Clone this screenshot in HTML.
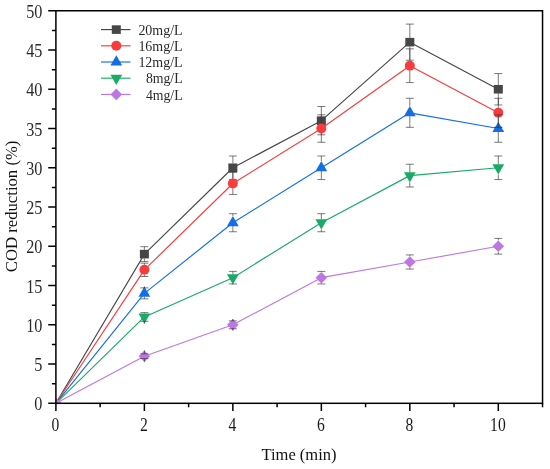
<!DOCTYPE html>
<html lang="en"><head><meta charset="utf-8"><title>COD reduction vs time</title>
<style>html,body{margin:0;padding:0;background:#fff}svg{display:block}.yt{font-family:"Liberation Serif",serif;font-size:18.2px;fill:#2a2a2a}.xt{font-family:"Liberation Serif",serif;font-size:17.8px;fill:#1a1a1a}.ti{font-family:"Liberation Serif",serif;font-size:16.5px;fill:#111}.lg{font-family:"Liberation Serif",serif;font-size:15.4px;fill:#2a2a2a}</style></head><body>
<svg width="550" height="469" viewBox="0 0 550 469">
<rect width="550" height="469" fill="#fff"/>
<defs><clipPath id="fr"><rect x="55.90" y="10.75" width="486.64" height="392.55"/></clipPath></defs>
<g>
<polyline fill="none" stroke="#464646" stroke-width="1.15" stroke-linejoin="round" points="55.90,403.30 144.38,254.13 232.86,167.77 321.34,120.66 409.82,42.15 498.30,89.26"/>
<rect x="139.88" y="249.83" width="9.0" height="8.6" fill="#464646"/><rect x="228.36" y="163.47" width="9.0" height="8.6" fill="#464646"/><rect x="316.84" y="116.36" width="9.0" height="8.6" fill="#464646"/><rect x="405.32" y="37.85" width="9.0" height="8.6" fill="#464646"/><rect x="493.80" y="84.96" width="9.0" height="8.6" fill="#464646"/>
<path d="M144.38 246.67V249.83M144.38 258.43V261.59M140.38 246.67h8M140.38 261.59h8M232.86 155.99V163.47M232.86 172.07V179.55M228.86 155.99h8M228.86 179.55h8M321.34 106.53V116.36M321.34 124.96V134.80M317.34 106.53h8M317.34 134.80h8M409.82 24.10V37.85M409.82 46.45V60.21M405.82 24.10h8M405.82 60.21h8M498.30 73.56V84.96M498.30 93.56V104.96M494.30 73.56h8M494.30 104.96h8" fill="none" stroke="#333" stroke-width="0.65"/>
</g>
<g>
<polyline fill="none" stroke="#f93b3c" stroke-width="1.15" stroke-linejoin="round" points="55.90,403.30 144.38,269.83 232.86,183.47 321.34,128.51 409.82,65.71 498.30,112.81"/>
<circle cx="144.38" cy="269.83" r="5" fill="#f93b3c"/><circle cx="232.86" cy="183.47" r="5" fill="#f93b3c"/><circle cx="321.34" cy="128.51" r="5" fill="#f93b3c"/><circle cx="409.82" cy="65.71" r="5" fill="#f93b3c"/><circle cx="498.30" cy="112.81" r="5" fill="#f93b3c"/>
<path d="M144.38 263.16V264.83M144.38 274.83V276.51M140.38 263.16h8M140.38 276.51h8M232.86 172.48V178.47M232.86 188.47V194.46M228.86 172.48h8M228.86 194.46h8M321.34 114.78V123.51M321.34 133.51V142.25M317.34 114.78h8M317.34 142.25h8M409.82 48.83V60.71M409.82 70.71V82.59M405.82 48.83h8M405.82 82.59h8M498.30 98.29V107.81M498.30 117.81V127.34M494.30 98.29h8M494.30 127.34h8" fill="none" stroke="#333" stroke-width="0.65"/>
</g>
<g>
<polyline fill="none" stroke="#126fe6" stroke-width="1.15" stroke-linejoin="round" points="55.90,403.30 144.38,293.39 232.86,222.73 321.34,167.77 409.82,112.81 498.30,128.51"/>
<polygon points="144.38,286.59 150.28,296.79 138.48,296.79" fill="#126fe6"/><polygon points="232.86,215.93 238.76,226.13 226.96,226.13" fill="#126fe6"/><polygon points="321.34,160.97 327.24,171.17 315.44,171.17" fill="#126fe6"/><polygon points="409.82,106.01 415.72,116.21 403.92,116.21" fill="#126fe6"/><polygon points="498.30,121.71 504.20,131.91 492.40,131.91" fill="#126fe6"/>
<path d="M144.38 287.89V286.59M144.38 296.79V298.88M140.38 287.89h8M140.38 298.88h8M232.86 213.70V215.93M232.86 226.13V231.76M228.86 213.70h8M228.86 231.76h8M321.34 155.99V160.97M321.34 171.17V179.55M317.34 155.99h8M317.34 179.55h8M409.82 98.29V106.01M409.82 116.21V127.34M405.82 98.29h8M405.82 127.34h8M498.30 114.78V121.71M498.30 131.91V142.25M494.30 114.78h8M494.30 142.25h8" fill="none" stroke="#333" stroke-width="0.65"/>
</g>
<path d="M498.30 122.11V127.34M494.30 127.34h8" fill="none" stroke="#333" stroke-width="0.65"/>
<g>
<polyline fill="none" stroke="#18ab65" stroke-width="1.15" stroke-linejoin="round" points="55.90,403.30 144.38,316.94 232.86,277.68 321.34,222.73 409.82,175.62 498.30,167.77"/>
<polygon points="144.38,323.74 150.28,313.54 138.48,313.54" fill="#18ab65"/><polygon points="232.86,284.48 238.76,274.28 226.96,274.28" fill="#18ab65"/><polygon points="321.34,229.53 327.24,219.33 315.44,219.33" fill="#18ab65"/><polygon points="409.82,182.42 415.72,172.22 403.92,172.22" fill="#18ab65"/><polygon points="498.30,174.57 504.20,164.37 492.40,164.37" fill="#18ab65"/>
<path d="M144.38 312.62V313.54M144.38 323.74V321.26M140.38 312.62h8M140.38 321.26h8M232.86 271.40V274.28M232.86 284.48V283.96M228.86 271.40h8M228.86 283.96h8M321.34 213.70V219.33M321.34 229.53V231.76M317.34 213.70h8M317.34 231.76h8M409.82 164.24V172.22M409.82 182.42V187.00M405.82 164.24h8M405.82 187.00h8M498.30 155.99V164.37M498.30 174.57V179.55M494.30 155.99h8M494.30 179.55h8" fill="none" stroke="#333" stroke-width="0.65"/>
</g>
<g>
<polyline fill="none" stroke="#be77e2" stroke-width="1.15" stroke-linejoin="round" points="55.90,403.30 144.38,356.19 232.86,324.79 321.34,277.68 409.82,261.98 498.30,246.28"/>
<g clip-path="url(#fr)"><polygon points="55.90,397.50 61.70,403.30 55.90,409.10 50.10,403.30" fill="#be77e2"/></g><polygon points="144.38,350.39 150.18,356.19 144.38,361.99 138.58,356.19" fill="#be77e2"/><polygon points="232.86,318.99 238.66,324.79 232.86,330.59 227.06,324.79" fill="#be77e2"/><polygon points="321.34,271.88 327.14,277.68 321.34,283.48 315.54,277.68" fill="#be77e2"/><polygon points="409.82,256.18 415.62,261.98 409.82,267.78 404.02,261.98" fill="#be77e2"/><polygon points="498.30,240.48 504.10,246.28 498.30,252.08 492.50,246.28" fill="#be77e2"/>
<path d="M144.38 353.84V350.39M144.38 361.99V358.55M140.38 353.84h8M140.38 358.55h8M232.86 320.86V318.99M232.86 330.59V328.72M228.86 320.86h8M228.86 328.72h8M321.34 271.40V271.88M321.34 283.48V283.96M317.34 271.40h8M317.34 283.96h8M409.82 254.92V256.18M409.82 267.78V269.05M405.82 254.92h8M405.82 269.05h8M498.30 238.43V240.48M498.30 252.08V254.13M494.30 238.43h8M494.30 254.13h8" fill="none" stroke="#333" stroke-width="0.65"/>
</g>
<rect x="55.90" y="10.75" width="486.64" height="392.55" fill="none" stroke="#000" stroke-width="1.5"/>
<path d="M55.90 403.30h-7.7M55.90 364.05h-7.7M55.90 324.79h-7.7M55.90 285.54h-7.7M55.90 246.28h-7.7M55.90 207.03h-7.7M55.90 167.77h-7.7M55.90 128.51h-7.7M55.90 89.26h-7.7M55.90 50.00h-7.7M55.90 10.75h-7.7M55.90 383.67h-4M55.90 344.42h-4M55.90 305.16h-4M55.90 265.91h-4M55.90 226.65h-4M55.90 187.40h-4M55.90 148.14h-4M55.90 108.89h-4M55.90 69.63h-4M55.90 30.38h-4M55.90 403.30v7.8M144.38 403.30v7.8M232.86 403.30v7.8M321.34 403.30v7.8M409.82 403.30v7.8M498.30 403.30v7.8M100.14 403.30v4M188.62 403.30v4M277.10 403.30v4M365.58 403.30v4M454.06 403.30v4M542.54 403.30v4" fill="none" stroke="#000" stroke-width="1.5"/>
<text class="yt" transform="translate(42.45 410.45) scale(0.89 1)" text-anchor="end">0</text>
<text class="yt" transform="translate(42.45 371.19) scale(0.89 1)" text-anchor="end">5</text>
<text class="yt" transform="translate(42.45 331.94) scale(0.89 1)" text-anchor="end">10</text>
<text class="yt" transform="translate(42.45 292.69) scale(0.89 1)" text-anchor="end">15</text>
<text class="yt" transform="translate(42.45 253.43) scale(0.89 1)" text-anchor="end">20</text>
<text class="yt" transform="translate(42.45 214.18) scale(0.89 1)" text-anchor="end">25</text>
<text class="yt" transform="translate(42.45 174.92) scale(0.89 1)" text-anchor="end">30</text>
<text class="yt" transform="translate(42.45 135.66) scale(0.89 1)" text-anchor="end">35</text>
<text class="yt" transform="translate(42.45 96.41) scale(0.89 1)" text-anchor="end">40</text>
<text class="yt" transform="translate(42.45 57.15) scale(0.89 1)" text-anchor="end">45</text>
<text class="yt" transform="translate(42.45 17.90) scale(0.89 1)" text-anchor="end">50</text>
<text class="xt" transform="translate(55.50 430.7) scale(0.875 1)" text-anchor="middle">0</text>
<text class="xt" transform="translate(143.98 430.7) scale(0.875 1)" text-anchor="middle">2</text>
<text class="xt" transform="translate(232.46 430.7) scale(0.875 1)" text-anchor="middle">4</text>
<text class="xt" transform="translate(320.94 430.7) scale(0.875 1)" text-anchor="middle">6</text>
<text class="xt" transform="translate(409.42 430.7) scale(0.875 1)" text-anchor="middle">8</text>
<text class="xt" transform="translate(497.90 430.7) scale(0.875 1)" text-anchor="middle">10</text>
<text class="ti" x="299" y="460" text-anchor="middle">Time (min)</text>
<text class="ti" style="font-size:16.7px" transform="translate(17 206.4) rotate(-90)" text-anchor="middle">COD reduction (%)</text>
<line x1="101" y1="29.60" x2="130.5" y2="29.60" stroke="#464646" stroke-width="1.15"/>
<rect x="111.80" y="25.30" width="9.0" height="8.6" fill="#464646"/>
<text class="lg" x="138.40" y="34.80" textLength="44.2" lengthAdjust="spacingAndGlyphs">20mg/L</text>
<line x1="101" y1="45.80" x2="130.5" y2="45.80" stroke="#f93b3c" stroke-width="1.15"/>
<circle cx="116.30" cy="45.80" r="5" fill="#f93b3c"/>
<text class="lg" x="138.40" y="51.00" textLength="44.2" lengthAdjust="spacingAndGlyphs">16mg/L</text>
<line x1="101" y1="62.00" x2="130.5" y2="62.00" stroke="#126fe6" stroke-width="1.15"/>
<polygon points="116.30,55.20 122.20,65.40 110.40,65.40" fill="#126fe6"/>
<text class="lg" x="138.40" y="67.20" textLength="44.2" lengthAdjust="spacingAndGlyphs">12mg/L</text>
<line x1="101" y1="78.20" x2="130.5" y2="78.20" stroke="#18ab65" stroke-width="1.15"/>
<polygon points="116.30,85.00 122.20,74.80 110.40,74.80" fill="#18ab65"/>
<text class="lg" x="145.90" y="83.40" textLength="36.7" lengthAdjust="spacingAndGlyphs">8mg/L</text>
<line x1="101" y1="94.40" x2="130.5" y2="94.40" stroke="#be77e2" stroke-width="1.15"/>
<polygon points="116.30,88.60 122.10,94.40 116.30,100.20 110.50,94.40" fill="#be77e2"/>
<text class="lg" x="145.90" y="99.60" textLength="36.7" lengthAdjust="spacingAndGlyphs">4mg/L</text>
</svg></body></html>
